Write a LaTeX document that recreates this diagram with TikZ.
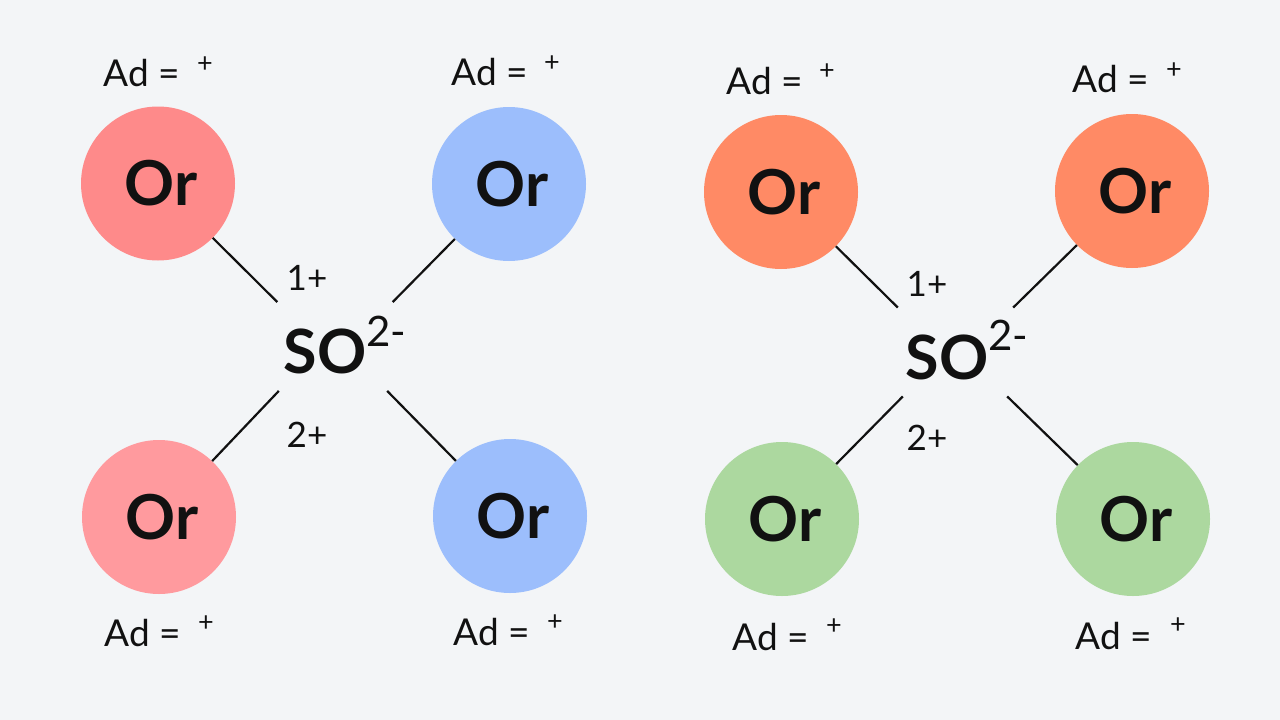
\documentclass[tikz,border=0pt]{standalone}
\usepackage{fontspec}
\setmainfont{Lato}
\definecolor{bgc}{HTML}{F3F5F7}
\definecolor{redA}{HTML}{FE8A8A}
\definecolor{redB}{HTML}{FF9A9E}
\definecolor{blueA}{HTML}{9CBEFC}
\definecolor{orangeA}{HTML}{FF8A65}
\definecolor{greenA}{HTML}{ACD89F}
\definecolor{ink}{HTML}{111111}
\newcommand{\orlabel}{\hspace*{6pt}Or}
\tikzset{
  ball/.style={circle,minimum size=154pt,inner sep=0pt,text=ink,font=\fontsize{62}{62}\selectfont\bfseries},
  hub/.style={rectangle,minimum width=115pt,minimum height=88.5pt,inner sep=0pt},
  bond/.style={draw=ink,line width=2.2pt},
  adlab/.style={inner sep=0pt,text=ink,font=\fontsize{37}{37}\selectfont},
  plus/.style={inner sep=0pt,text=ink,font=\fontsize{27}{27}\selectfont},
  chg/.style={inner sep=0pt,text=ink,font=\fontsize{35}{35}\selectfont},
  solab/.style={inner sep=0pt,text=ink,font=\fontsize{61}{61}\selectfont\bfseries},
  supl/.style={inner sep=0pt,text=ink,font=\fontsize{42}{42}\selectfont},
}
\begin{document}
\begin{tikzpicture}[x=1pt,y=-1pt]
\useasboundingbox (0,0) rectangle (1280,720);
\fill[bgc] (0,0) rectangle (1280,720);
% left
\node[ball,fill=redA] (a1) at (158,183.5) {\orlabel};
\node[ball,fill=blueA] (a2) at (509,184) {\orlabel};
\node[ball,fill=redB] (a3) at (159,517) {\orlabel};
\node[ball,fill=blueA] (a4) at (510,516) {\orlabel};
\node[hub] (so1) at (335,346.5) {};
\node[solab] (s1) at (325,351) {SO};
\node[supl] (t1) at (386,331) {2-};
\draw[bond] (a1) -- (so1.north west);
\draw[bond] (a2) -- (so1.north east);
\draw[bond] (a3) -- ([xshift=1.5pt]so1.south west);
\draw[bond] (a4) -- ([xshift=-5.5pt]so1.south east);
\node[chg] (c1) at (307,278) {1+};
\node[chg] (c2) at (307,435) {2+};
\node[adlab] (l1) at (142,73) {Ad =};
\node[plus] (p1) at (205,65) {+};
\node[adlab] (l2) at (490,72) {Ad =};
\node[plus] (p2) at (552,64) {+};
\node[adlab] (l3) at (143,633) {Ad =};
\node[plus] (p3) at (206,624) {+};
\node[adlab] (l4) at (492,632) {Ad =};
\node[plus] (p4) at (555,623) {+};
% right
\node[ball,fill=orangeA] (b1) at (781,192) {\orlabel};
\node[ball,fill=orangeA] (b2) at (1132,191) {\orlabel};
\node[ball,fill=greenA] (b3) at (782,519) {\orlabel};
\node[ball,fill=greenA] (b4) at (1133,519) {\orlabel};
\node[hub] (so2) at (955.5,352) {};
\node[solab] (s2) at (947,357) {SO};
\node[supl] (t2) at (1008,335) {2-};
\draw[bond] (b1) -- (so2.north west);
\draw[bond] (b2) -- (so2.north east);
\draw[bond] (b3) -- ([xshift=5pt]so2.south west);
\draw[bond] (b4) -- ([xshift=-6pt]so2.south east);
\node[chg] (c3) at (927,284) {1+};
\node[chg] (c4) at (927,438) {2+};
\node[adlab] (l5) at (765,81) {Ad =};
\node[plus] (p5) at (827,72) {+};
\node[adlab] (l6) at (1111,79) {Ad =};
\node[plus] (p6) at (1174,71) {+};
\node[adlab] (l7) at (771,637) {Ad =};
\node[plus] (p7) at (834,627) {+};
\node[adlab] (l8) at (1114,636) {Ad =};
\node[plus] (p8) at (1178,626) {+};
\end{tikzpicture}
\end{document}
